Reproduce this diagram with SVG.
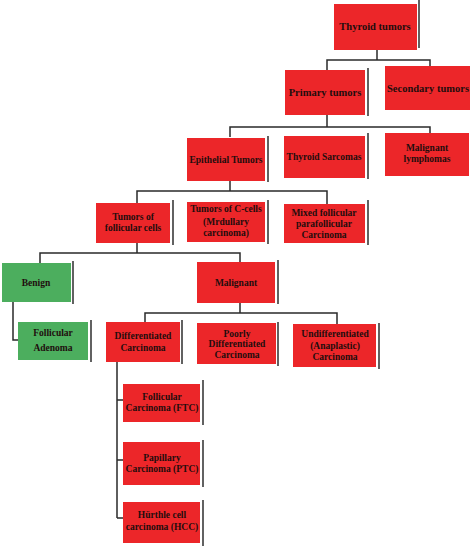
<svg xmlns="http://www.w3.org/2000/svg" width="474" height="548" viewBox="0 0 474 548">
<style>
.r{fill:#ec2629}
.g{fill:#4cae5e}
.e{stroke:#3a3a3a;stroke-width:1.6;fill:none}
.c{stroke:#2a2a2a;stroke-width:1.5;fill:none}
text{font-family:"Liberation Serif","DejaVu Serif",serif;font-weight:bold;font-size:9.5px;fill:#1f0d0d;text-anchor:middle}
.t{font-size:10.5px}
</style>
<rect width="474" height="548" fill="#ffffff"/>
<g id="connectors">
<path class="c" d="M377 50V60M327 70V60H430V66"/>
<path class="c" d="M327 115V127M230 137V127H430V133"/>
<path class="c" d="M230 181V191M137 203V191H327V204"/>
<path class="c" d="M137 243V253M40 263V253H240V262"/>
<path class="c" d="M13 302V340H18"/>
<path class="c" d="M240 303V313M145 322V313H337V324"/>
<path class="c" d="M117 362V518M117 400H123M117 460H123M117 518H123"/>
</g>
<g id="n1"><rect class="r" x="334" y="4" width="83" height="46"/><path class="e" d="M419 0V48"/><text class="t" x="375" y="30">Thyroid tumors</text></g>
<g id="n2"><rect class="r" x="285" y="70" width="80" height="45"/><path class="e" d="M368 68V116"/><text class="t" x="325" y="96">Primary tumors</text></g>
<g id="n3"><rect class="r" x="385" y="66" width="85" height="44"/><text class="t" x="428" y="92">Secondary tumors</text></g>
<g id="n4"><rect class="r" x="187" y="138" width="78" height="43"/><path class="e" d="M268 136V182"/><text x="226" y="163">Epithelial Tumors</text></g>
<g id="n5"><rect class="r" x="284" y="136" width="81" height="42"/><path class="e" d="M368 133V179"/><text x="324" y="160">Thyroid Sarcomas</text></g>
<g id="n6"><rect class="r" x="385" y="133" width="84" height="43"/><text x="427" y="151">Malignant</text><text x="427" y="162">lymphomas</text></g>
<g id="n7"><rect class="r" x="96" y="203" width="74" height="40"/><path class="e" d="M173 200V245"/><text x="133" y="220">Tumors of</text><text x="133" y="231">follicular cells</text></g>
<g id="n8"><rect class="r" x="187" y="202" width="78" height="40"/><path class="e" d="M268 200V244"/><text x="226" y="212">Tumors of C-cells</text><text x="226" y="225">(Mrdullary</text><text x="226" y="236">carcinoma)</text></g>
<g id="n9"><rect class="r" x="284" y="204" width="81" height="39"/><path class="e" d="M368 200V245"/><text x="324" y="216">Mixed follicular</text><text x="324" y="227">parafollicular</text><text x="324" y="238">Carcinoma</text></g>
<g id="n10"><rect class="g" x="2" y="263" width="69" height="39"/><path class="e" d="M73 261V304"/><text x="36" y="286">Benign</text></g>
<g id="n11"><rect class="r" x="197" y="262" width="78" height="41"/><path class="e" d="M278 260V304"/><text x="236" y="286">Malignant</text></g>
<g id="n12"><rect class="g" x="18" y="322" width="70" height="38"/><path class="e" d="M91 320V362"/><text x="53" y="336">Follicular</text><text x="53" y="351">Adenoma</text></g>
<g id="n13"><rect class="r" x="106" y="322" width="74" height="40"/><path class="e" d="M182 320V364"/><text x="143" y="339">Differentiated</text><text x="143" y="351">Carcinoma</text></g>
<g id="n14"><rect class="r" x="197" y="323" width="79" height="41"/><path class="e" d="M278 322V366"/><text x="237" y="337">Poorly</text><text x="237" y="347">Differentiated</text><text x="237" y="358">Carcinoma</text></g>
<g id="n15"><rect class="r" x="293" y="324" width="83" height="43"/><path class="e" d="M379 323V369"/><text x="335" y="337">Undifferentiated</text><text x="335" y="349">(Anaplastic)</text><text x="335" y="360">Carcinoma</text></g>
<g id="n16"><rect class="r" x="123" y="384" width="77" height="38"/><path class="e" d="M203 380V425"/><text x="162" y="400">Follicular</text><text x="162" y="411">Carcinoma (FTC)</text></g>
<g id="n17"><rect class="r" x="123" y="442" width="77" height="43"/><path class="e" d="M203 440V487"/><text x="162" y="461">Papillary</text><text x="162" y="472">Carcinoma (PTC)</text></g>
<g id="n18"><rect class="r" x="123" y="502" width="77" height="41"/><path class="e" d="M203 500V546"/><text x="162" y="518">Hürthle cell</text><text x="162" y="530">carcinoma (HCC)</text></g>
</svg>
